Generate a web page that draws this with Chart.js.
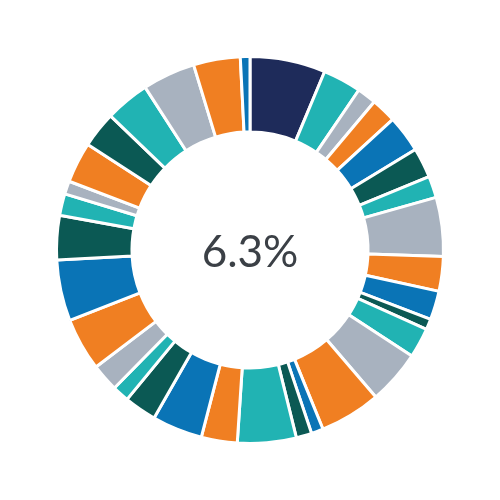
<!DOCTYPE html>
<html>
<head>
<meta charset="utf-8">
<script src="https://cdn.jsdelivr.net/npm/chart.js@4/dist/chart.umd.min.js"></script>
<style>
  html, body { margin: 0; padding: 0; background: #fff; }
  #wrap { position: relative; width: 500px; height: 500px; }
  #centro {
    position: absolute; left: 0; top: 0; width: 500px; height: 500px;
    display: flex; align-items: center; justify-content: center;
    font-family: Lato, "Open Sans", sans-serif; font-weight: 400;
    font-size: 44px; color: #3b4046; pointer-events: none;
  }
</style>
</head>
<body>
<div id="wrap">
  <canvas id="myChart" width="500" height="500"></canvas>
  <div id="centro">6.3%</div>
</div>
<script>
const ctx = document.getElementById("myChart");

// datos (porcentaje de cada segmento, en sentido horario desde arriba)
const etiquetas = [
  "S1", "S2", "S3", "S4", "S5", "S6", "S7", "S8", "S9", "S10", "S11",
  "S12", "S13", "S14", "S15", "S16", "S17", "S18", "S19", "S20", "S21", "S22",
  "S23", "S24", "S25", "S26", "S27", "S28", "S29", "S30", "S31", "S32", "S33",
];
const valores = [
  6.3, 3.2, 1.6, 2.1, 3.1, 2.5, 1.8, 4.9, 2.9, 2.4, 0.9,
  2.5, 4.5, 5.1, 1.0, 1.3, 4.9, 3.0, 4.2, 2.7, 1.4, 2.3,
  4.4, 5.1, 3.7, 1.8, 1.1, 3.4, 3.0, 3.7, 4.4, 3.9, 0.8,
];
const grupos = [
  "navy", "teal", "gris", "naranja", "azul", "verde", "teal", "gris", "naranja", "azul", "verde",
  "teal", "gris", "naranja", "azul", "verde", "teal", "naranja", "azul", "verde", "teal", "gris",
  "naranja", "azul", "verde", "teal", "gris", "naranja", "verde", "teal", "gris", "naranja", "azul",
];
const centroTexto = "6.3%";

const paleta = {
  navy: "#1e2b5a",
  teal: "#21b3b3",
  gris: "#a8b2bf",
  naranja: "#f07f22",
  azul: "#0a74b6",
  verde: "#0b5954",
};

document.getElementById("centro").textContent = centroTexto;

new Chart(ctx, {
  type: "doughnut",
  data: {
    labels: etiquetas,
    datasets: [
      {
        data: valores,
        backgroundColor: grupos.map((g) => paleta[g]),
        borderColor: "#ffffff",
        borderWidth: 3,
      },
    ],
  },
  options: {
    responsive: false,
    animation: false,
    cutout: "61%",
    layout: { padding: 55 },
    plugins: {
      legend: { display: false },
      tooltip: { enabled: false },
    },
  },
});
</script>
</body>
</html>
